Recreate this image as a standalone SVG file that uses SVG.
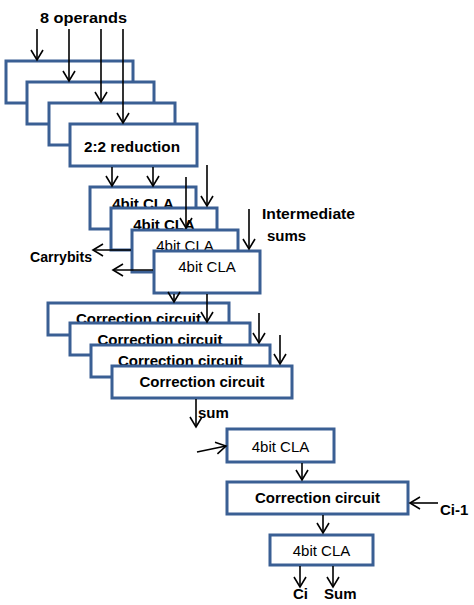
<svg xmlns="http://www.w3.org/2000/svg" width="474" height="605" viewBox="0 0 474 605">
<defs>
<marker id="ah" markerUnits="userSpaceOnUse" viewBox="-12 -8 14 16" refX="0" refY="0" markerWidth="14" markerHeight="16" orient="auto" overflow="visible">
<path d="M-10,-6 L0,0 L-10,6" fill="none" stroke="#000" stroke-width="1.6"/>
</marker>
</defs>
<style>
.box{fill:#fff;stroke:#3a5f94;stroke-width:3}
.t{font-family:"Liberation Sans",Arial,sans-serif;font-size:15px;fill:#000}
.b{font-weight:bold}
.c{text-anchor:middle}
.ar{stroke:#000;stroke-width:1.6;fill:none;marker-end:url(#ah)}
</style>
<rect width="474" height="605" fill="#fff"/>
<text class="t b" x="40" y="23" textLength="87" lengthAdjust="spacingAndGlyphs">8 operands</text>

<g id="red1"><rect class="box" x="6" y="61" width="127" height="42"/></g>
<g id="red2"><rect class="box" x="27" y="82" width="127" height="42"/></g>
<g id="red3"><rect class="box" x="49" y="103" width="126" height="42"/></g>
<g id="red4"><rect class="box" x="70" y="124" width="127" height="42"/>
<text class="t b" x="84" y="152" textLength="96" lengthAdjust="spacingAndGlyphs">2:2 reduction</text></g>

<g id="cla1"><rect class="box" x="90" y="187" width="106" height="42"/>
<text class="t b c" x="143" y="209">4bit CLA</text></g>
<g id="cla2"><rect class="box" x="111" y="208" width="106" height="42"/>
<text class="t b c" x="164" y="230">4bit CLA</text></g>
<g id="cla3"><rect class="box" x="132" y="230" width="106" height="42"/>
<text class="t c" x="185" y="251">4bit CLA</text></g>
<g id="cla4"><rect class="box" x="154" y="251" width="106" height="42"/>
<text class="t c" x="207" y="272">4bit CLA</text></g>

<text class="t b" x="262" y="219" textLength="93" lengthAdjust="spacingAndGlyphs">Intermediate</text>
<text class="t b" x="267" y="241">sums</text>
<text class="t b" x="30" y="262" textLength="62" lengthAdjust="spacingAndGlyphs">Carrybits</text>

<g id="cor1"><rect class="box" x="48" y="303" width="181" height="32"/>
<text class="t b c" x="138.5" y="324">Correction circuit</text></g>
<g id="cor2"><rect class="box" x="70" y="323" width="180" height="32"/>
<text class="t b c" x="160" y="345">Correction circuit</text></g>
<g id="cor3"><rect class="box" x="91" y="345" width="179" height="32"/>
<text class="t b c" x="180.5" y="366">Correction circuit</text></g>
<g id="cor4"><rect class="box" x="112" y="366" width="180" height="32"/>
<text class="t b c" x="202" y="387">Correction circuit</text></g>

<text class="t b" x="198" y="418">sum</text>

<g id="cla5"><rect class="box" x="227" y="429" width="107" height="33"/>
<text class="t c" x="280.5" y="452">4bit CLA</text></g>
<g id="cor5"><rect class="box" x="227" y="482" width="181" height="32"/>
<text class="t b c" x="317.5" y="503">Correction circuit</text></g>
<g id="cla6"><rect class="box" x="270" y="535" width="103" height="30"/>
<text class="t c" x="321.5" y="556">4bit CLA</text></g>

<text class="t b" x="440" y="515">Ci-1</text>
<text class="t b" x="293" y="599">Ci</text>
<text class="t b" x="324" y="599">Sum</text>

<g id="connectors">
<line class="ar" x1="37" y1="29" x2="37" y2="60"/>
<line class="ar" x1="69" y1="29" x2="69" y2="81"/>
<line class="ar" x1="101" y1="29" x2="101" y2="102"/>
<line class="ar" x1="123" y1="29" x2="123" y2="123"/>
<line class="ar" x1="112" y1="167" x2="112" y2="186"/>
<line class="ar" x1="153" y1="167" x2="153" y2="186"/>
<line class="ar" x1="186" y1="177" x2="186" y2="228"/>
<line class="ar" x1="207" y1="165" x2="207" y2="206"/>
<line class="ar" x1="249" y1="209" x2="249" y2="249"/>
<line class="ar" x1="131" y1="250" x2="93" y2="250"/>
<line class="ar" x1="153" y1="270" x2="113" y2="270"/>
<line class="ar" x1="174" y1="294" x2="174" y2="302"/>
<line class="ar" x1="207" y1="294" x2="207" y2="322"/>
<line class="ar" x1="259" y1="313" x2="259" y2="343"/>
<line class="ar" x1="280" y1="335" x2="280" y2="364"/>
<line class="ar" x1="196" y1="399" x2="196" y2="427"/>
<line class="ar" x1="197" y1="452" x2="226" y2="446"/>
<line class="ar" x1="302" y1="463" x2="302" y2="480"/>
<line class="ar" x1="438" y1="503" x2="410" y2="503"/>
<line class="ar" x1="323" y1="515" x2="323" y2="533"/>
<line class="ar" x1="300" y1="566" x2="300" y2="587"/>
<line class="ar" x1="333" y1="566" x2="333" y2="587"/>
</g>
</svg>
